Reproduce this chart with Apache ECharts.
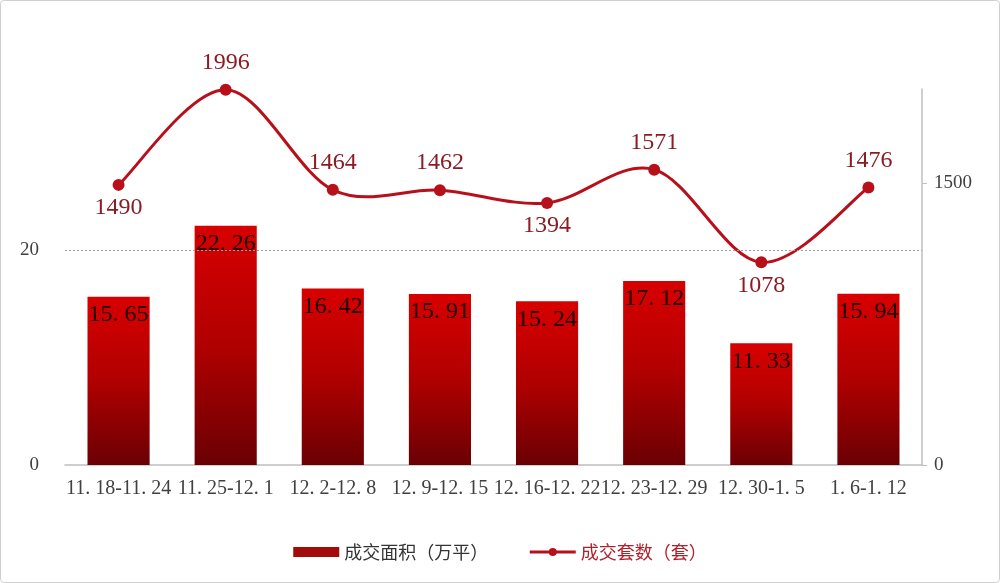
<!DOCTYPE html>
<html><head><meta charset="utf-8">
<script src="https://cdn.jsdelivr.net/npm/echarts@6/dist/echarts.min.js"></script>
<style>
html,body{margin:0;padding:0;background:#fff;}
#c{width:998px;height:581px;border:1px solid #d0d0d0;border-radius:4px;}
</style></head>
<body><div id="c"></div>
<script>
var categories = ['11.18-11.24','11.25-12.1','12.2-12.8','12.9-12.15','12.16-12.22','12.23-12.29','12.30-1.5','1.6-1.12'];
var areaValues = [15.65, 22.26, 16.42, 15.91, 15.24, 17.12, 11.33, 15.94];
var countValues = [1490, 1996, 1464, 1462, 1394, 1571, 1078, 1476];
var countLabelPos = ['bottom','top','top','top','bottom','top','bottom','top'];

var chart = echarts.init(document.getElementById('c'));
var serif = 'Liberation Serif';
var lineColor = '#b8101a';
var lineData = countValues.map(function(v,i){
  var top = countLabelPos[i] === 'top';
  return {value:v, label:{position:countLabelPos[i], distance: top ? 9 : 5}};
});
function renderCurve(params, api){
  var i = params.dataIndex, n = countValues.length;
  if (i >= n - 1) return null;
  var P = countValues.map(function(v,k){ return api.coord([k, v]); });
  var p0 = P[Math.max(i-1,0)], p1 = P[i], p2 = P[i+1], p3 = P[Math.min(i+2,n-1)];
  var t = 1/6;
  return {
    type:'bezierCurve',
    shape:{x1:p1[0], y1:p1[1], x2:p2[0], y2:p2[1],
      cpx1:p1[0] + (p2[0]-p0[0])*t, cpy1:p1[1] + (p2[1]-p0[1])*t,
      cpx2:p2[0] - (p3[0]-p1[0])*t, cpy2:p2[1] - (p3[1]-p1[1])*t},
    style:{stroke:lineColor, lineWidth:3, fill:null},
    silent:true
  };
}
chart.setOption({
  animation:false,
  grid:{left:64, right:77, top:88, bottom:117},
  legend:{
    bottom:16, left:'center', itemGap:40, itemWidth:46, itemHeight:10,
    textStyle:{fontFamily:'Noto Sans CJK SC', fontSize:18, color:'#333'},
    data:[
      {name:'成交面积（万平）', icon:'rect', itemStyle:{color:'#a30a0a'}},
      {name:'成交套数（套）', textStyle:{color:'#b0202a'}, lineStyle:{color:lineColor, width:3, opacity:1}}
    ]
  },
  xAxis:{
    type:'category', data:categories,
    axisLine:{lineStyle:{color:'#bfbfbf', width:1.5}},
    axisTick:{show:false},
    axisLabel:{fontFamily:serif, fontSize:20, color:'#404040', margin:14, interval:0,
      formatter:function(s){return s.replace(/\./g,'. ');}}
  },
  yAxis:[
    {type:'value', min:0, max:35, interval:20,
     axisLine:{show:false}, axisTick:{show:false}, splitLine:{show:false},
     axisLabel:{fontFamily:serif, fontSize:19, color:'#404040', margin:26, showMaxLabel:false}},
    {type:'value', min:0, max:2000, interval:1500,
     axisLine:{show:true, lineStyle:{color:'#bfbfbf', width:1.5}},
     axisTick:{show:true, length:5, lineStyle:{color:'#bfbfbf'}},
     splitLine:{show:false},
     axisLabel:{fontFamily:serif, fontSize:19, color:'#404040', margin:12, showMaxLabel:false,
       formatter:function(v){return String(v);}}}
  ],
  series:[
    {name:'成交面积（万平）', type:'bar', yAxisIndex:0, data:areaValues, barWidth:'58%',
     itemStyle:{color:new echarts.graphic.LinearGradient(0,0,0,1,[
       {offset:0,color:'#d80000'},{offset:0.5,color:'#b00000'},{offset:1,color:'#6a0004'}])},
     label:{show:true, position:'insideTop', offset:[0,1], fontFamily:serif, fontSize:24, color:'#1e0404',
       formatter:function(p){return p.value.toFixed(2).replace('.', '. ');}},
     markLine:{silent:true, symbol:'none', label:{show:false},
       lineStyle:{color:'#a0a0a0', type:[2,2], width:1},
       data:[{yAxis:20}]}
    },
    {name:'curve', type:'custom', yAxisIndex:1, data:countValues.map(function(v,i){return [i,v];}),
     renderItem:renderCurve, z:2},
    {name:'成交套数（套）', type:'line', yAxisIndex:1, data:lineData,
     symbol:'circle', symbolSize:12, z:3,
     lineStyle:{color:lineColor, width:3, opacity:0},
     itemStyle:{color:lineColor},
     label:{show:true, fontFamily:serif, fontSize:24, color:'#8a1c24'}
    }
  ]
});
</script></body></html>
